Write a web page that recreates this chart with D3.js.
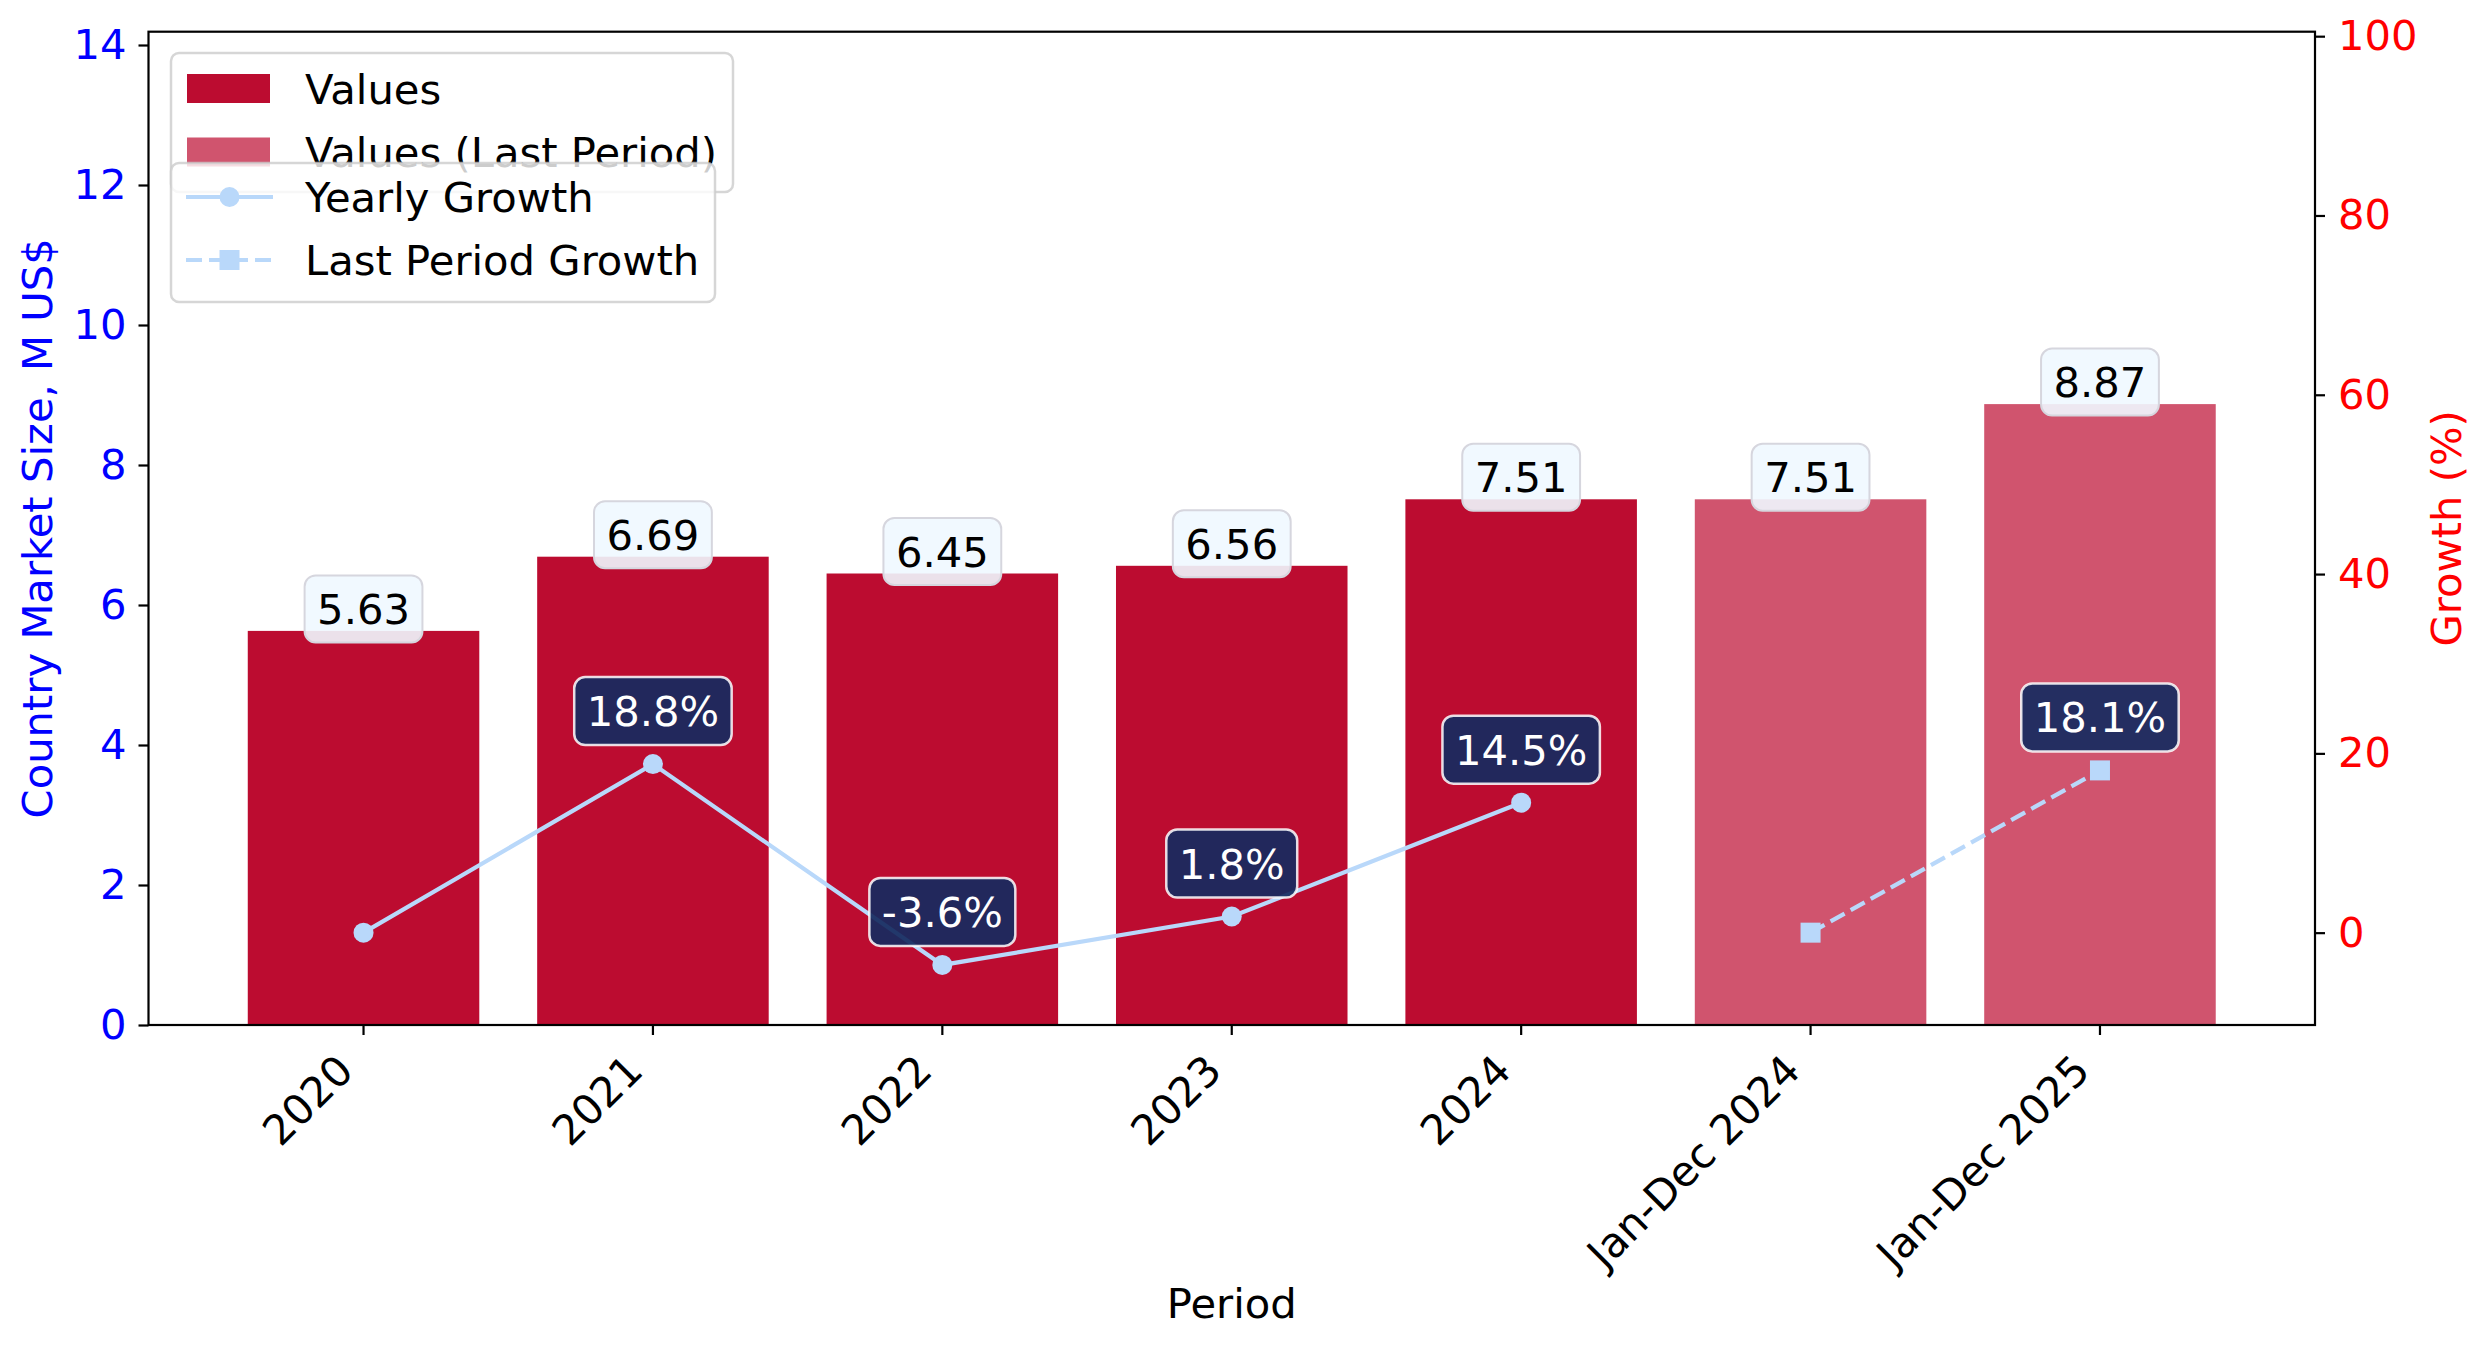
<!DOCTYPE html>
<head>
    <meta charset="utf-8">
    <style>
        body {
            margin: 0;
            padding: 0;
            background: #fff;
        }
        svg text {
            font-family: "DejaVu Sans", sans-serif;
            font-size: 41.7px;
        }
    </style>
    <script src="https://d3js.org/d3.v7.min.js"></script>
</head>
<body>
    <svg width="2491" height="1349"></svg>
    <script>
        // data
        var periods = ["2020", "2021", "2022", "2023", "2024", "Jan-Dec 2024", "Jan-Dec 2025"];
        var values = [5.63, 6.69, 6.45, 6.56, 7.51, 7.51, 8.87];
        var yearlyPeriods = ["2020", "2021", "2022", "2023", "2024"];
        var yearlyGrowth = [0, 18.8, -3.6, 1.8, 14.5];
        var lastPeriods = ["Jan-Dec 2024", "Jan-Dec 2025"];
        var lastGrowth = [0, 18.1];
        var leftTicks = [0, 2, 4, 6, 8, 10, 12, 14];
        var rightTicks = [0, 20, 40, 60, 80, 100];

        var barColor = "#BC0C30",
            lineColor = "#B9D8FA",
            navy = "#172B60";

        var svg = d3.select("svg");
        // plot area (note: "top" is reserved on window, so use plot* names)
        var plotLeft = 148.5, plotRight = 2315, plotTop = 31.7, plotBottom = 1025;

        // scales
        var x = d3.scaleBand()
            .domain(periods)
            .range([plotLeft, plotRight])
            .paddingInner(0.2)
            .paddingOuter(0.343);
        var y = d3.scaleLinear().domain([0, 14.19]).range([plotBottom, plotTop]);
        var y2 = d3.scaleLinear().domain([-10.3, 100.5]).range([plotBottom, plotTop]);
        var cx = function (p) { return x(p) + x.bandwidth() / 2; };

        // bars
        svg.append("g")
            .selectAll("rect")
            .data(periods)
            .enter().append("rect")
                .attr("x", function (d) { return x(d); })
                .attr("width", x.bandwidth())
                .attr("y", function (d, i) { return y(values[i]); })
                .attr("height", function (d, i) { return plotBottom - y(values[i]); })
                .attr("fill", barColor)
                .attr("fill-opacity", function (d) { return lastPeriods.indexOf(d) >= 0 ? 0.7 : 1; });

        // value labels on bars
        var vl = svg.append("g")
            .selectAll("g")
            .data(periods)
            .enter().append("g")
                .attr("transform", function (d, i) { return "translate(" + cx(d) + "," + (y(values[i]) - 22) + ")"; });
        vl.append("text")
            .attr("text-anchor", "middle")
            .attr("dy", "0.36em")
            .attr("fill", "#000")
            .text(function (d, i) { return values[i].toFixed(2); })
            .each(function () {
                var w = this.getComputedTextLength() + 25;
                d3.select(this.parentNode).insert("rect", "text")
                    .attr("x", -w / 2).attr("y", -33.5)
                    .attr("width", w).attr("height", 67)
                    .attr("rx", 11)
                    .attr("fill", "#F0F8FF").attr("fill-opacity", 0.9)
                    .attr("stroke", "#D6D6DE").attr("stroke-width", 2);
            });

        // growth lines
        var line = d3.line()
            .x(function (d) { return cx(d.p); })
            .y(function (d) { return y2(d.g); });
        var yearly = yearlyPeriods.map(function (p, i) { return {p: p, g: yearlyGrowth[i], i: i}; });
        var last = lastPeriods.map(function (p, i) { return {p: p, g: lastGrowth[i], i: i}; });

        svg.append("path")
            .datum(yearly)
            .attr("d", line)
            .attr("fill", "none")
            .attr("stroke", lineColor)
            .attr("stroke-width", 4.2);
        svg.append("g")
            .selectAll("circle")
            .data(yearly)
            .enter().append("circle")
                .attr("cx", function (d) { return cx(d.p); })
                .attr("cy", function (d) { return y2(d.g); })
                .attr("r", 10)
                .attr("fill", lineColor);

        svg.append("path")
            .datum(last)
            .attr("d", line)
            .attr("fill", "none")
            .attr("stroke", lineColor)
            .attr("stroke-width", 4.2)
            .attr("stroke-dasharray", "16,7");
        svg.append("g")
            .selectAll("rect")
            .data(last)
            .enter().append("rect")
                .attr("x", function (d) { return cx(d.p) - 10; })
                .attr("y", function (d) { return y2(d.g) - 10; })
                .attr("width", 20)
                .attr("height", 20)
                .attr("fill", lineColor);

        // growth labels (skip first point of each series)
        var gl = svg.append("g")
            .selectAll("g")
            .data(yearly.concat(last).filter(function (d) { return d.i > 0; }))
            .enter().append("g")
                .attr("transform", function (d) { return "translate(" + cx(d.p) + "," + (y2(d.g) - 53) + ")"; });
        gl.append("text")
            .attr("text-anchor", "middle")
            .attr("dy", "0.36em")
            .attr("fill", "#fff")
            .text(function (d) { return d.g.toFixed(1) + "%"; })
            .each(function () {
                var w = this.getComputedTextLength() + 25;
                d3.select(this.parentNode).insert("rect", "text")
                    .attr("x", -w / 2).attr("y", -34)
                    .attr("width", w).attr("height", 68)
                    .attr("rx", 11)
                    .attr("fill", navy).attr("fill-opacity", 0.93)
                    .attr("stroke", "#fff").attr("stroke-opacity", 0.85).attr("stroke-width", 2.5);
            });

        // frame
        svg.append("rect")
            .attr("x", plotLeft).attr("y", plotTop)
            .attr("width", plotRight - plotLeft).attr("height", plotBottom - plotTop)
            .attr("fill", "none")
            .attr("stroke", "#000")
            .attr("stroke-width", 2.2);

        // left axis
        var ga = svg.append("g")
            .attr("transform", "translate(" + plotLeft + ",0)")
            .call(d3.axisLeft(y).tickValues(leftTicks).tickSize(10).tickPadding(12));
        ga.select(".domain").remove();
        ga.selectAll("line").attr("stroke", "#000").attr("stroke-width", 2.2);
        ga.selectAll("text").attr("fill", "#0000FF").style("font-size", "41.7px");

        // right axis
        var gr = svg.append("g")
            .attr("transform", "translate(" + plotRight + ",0)")
            .call(d3.axisRight(y2).tickValues(rightTicks).tickSize(10).tickPadding(13));
        gr.select(".domain").remove();
        gr.selectAll("line").attr("stroke", "#000").attr("stroke-width", 2.2);
        gr.selectAll("text").attr("fill", "#FF0000").style("font-size", "41.7px");

        // bottom axis
        var gb = svg.append("g")
            .attr("transform", "translate(0," + plotBottom + ")")
            .call(d3.axisBottom(x).tickSize(10).tickSizeOuter(0));
        gb.select(".domain").remove();
        gb.selectAll("line").attr("stroke", "#000").attr("stroke-width", 2.2);
        gb.selectAll("text")
            .attr("fill", "#000")
            .style("font-size", "41.7px")
            .attr("text-anchor", "end")
            .attr("y", null).attr("dy", null)
            .attr("transform", "translate(-8,48) rotate(-45)");

        // axis titles
        svg.append("text")
            .attr("transform", "translate(52," + ((plotTop + plotBottom) / 2) + ") rotate(-90)")
            .attr("text-anchor", "middle")
            .attr("fill", "#0000FF")
            .text("Country Market Size, M US$");
        svg.append("text")
            .attr("transform", "translate(2461," + ((plotTop + plotBottom) / 2) + ") rotate(-90)")
            .attr("text-anchor", "middle")
            .attr("fill", "#FF0000")
            .text("Growth (%)");
        svg.append("text")
            .attr("x", (plotLeft + plotRight) / 2)
            .attr("y", 1318)
            .attr("text-anchor", "middle")
            .attr("fill", "#000")
            .text("Period");

        // legends
        function legendBox(x0, y0, w, h) {
            svg.append("rect")
                .attr("x", x0).attr("y", y0)
                .attr("width", w).attr("height", h)
                .attr("rx", 8)
                .attr("fill", "#fff").attr("fill-opacity", 0.8)
                .attr("stroke", "#CCCCCC").attr("stroke-opacity", 0.8)
                .attr("stroke-width", 2.5);
        }
        legendBox(171, 53, 562, 139);
        var l1 = [{label: "Values", op: 1}, {label: "Values (Last Period)", op: 0.7}];
        l1.forEach(function (d, i) {
            var cy = 88.5 + i * 63.5;
            svg.append("rect")
                .attr("x", 187).attr("y", cy - 14.5)
                .attr("width", 83).attr("height", 29)
                .attr("fill", barColor).attr("fill-opacity", d.op);
            svg.append("text")
                .attr("x", 305).attr("y", cy + 15)
                .attr("fill", "#000")
                .text(d.label);
        });

        legendBox(171, 163, 544, 139);
        var l2 = [{label: "Yearly Growth", dash: null, shape: "circle"},
                  {label: "Last Period Growth", dash: "16,7", shape: "square"}];
        l2.forEach(function (d, i) {
            var cy = 197 + i * 63;
            svg.append("line")
                .attr("x1", 186).attr("x2", 273)
                .attr("y1", cy).attr("y2", cy)
                .attr("stroke", lineColor).attr("stroke-width", 4.2)
                .attr("stroke-dasharray", d.dash);
            if (d.shape === "circle") {
                svg.append("circle").attr("cx", 229.5).attr("cy", cy).attr("r", 10).attr("fill", lineColor);
            } else {
                svg.append("rect").attr("x", 219.5).attr("y", cy - 10).attr("width", 20).attr("height", 20).attr("fill", lineColor);
            }
            svg.append("text")
                .attr("x", 305).attr("y", cy + 15)
                .attr("fill", "#000")
                .text(d.label);
        });
    </script>
</body>
</html>
